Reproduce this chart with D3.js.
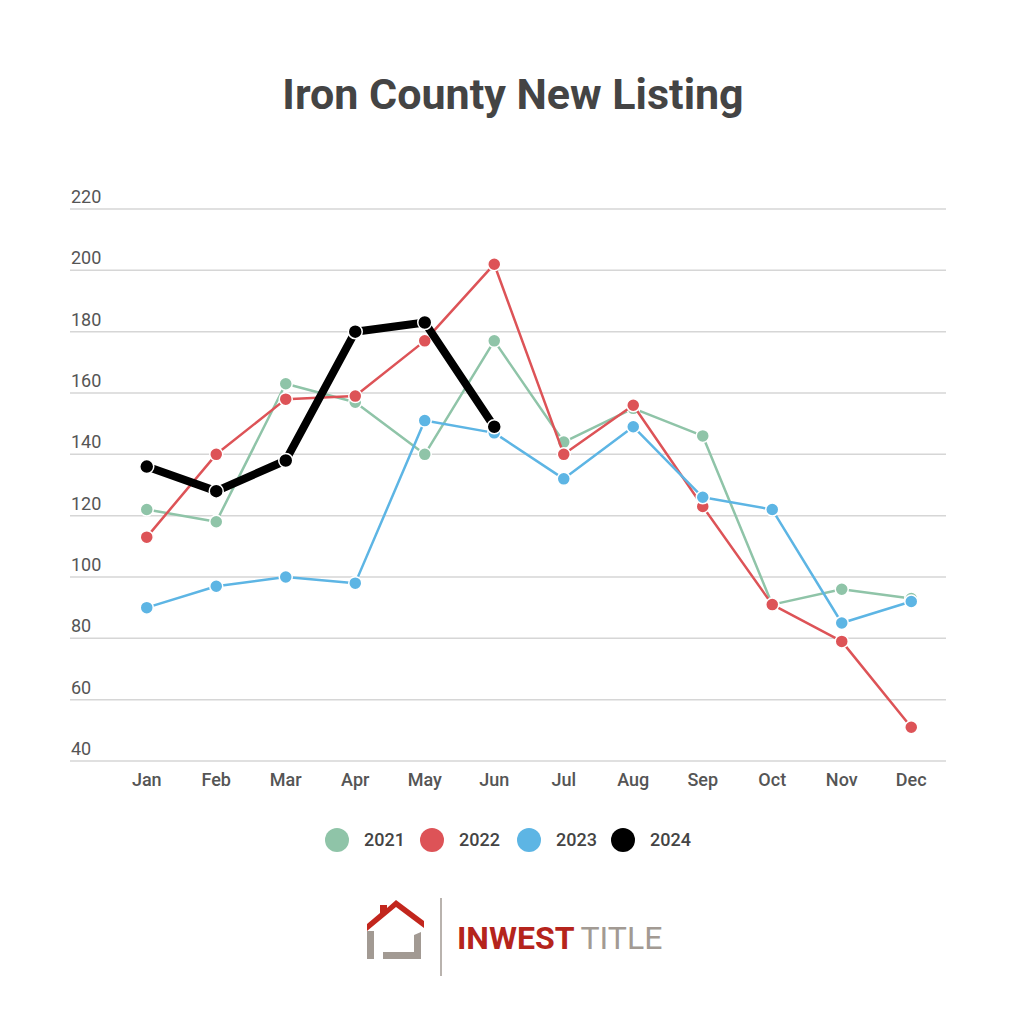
<!DOCTYPE html>
<html>
<head>
<meta charset="utf-8">
<script src="https://cdn.jsdelivr.net/npm/d3@7"></script>
<style>
  body { margin: 0; background: #fff; }
  svg text { font-family: Roboto, "Noto Sans", sans-serif; }
</style>
</head>
<body>
<svg width="1032" height="1020"></svg>
<script>
var months = ["Jan", "Feb", "Mar", "Apr", "May", "Jun", "Jul", "Aug", "Sep", "Oct", "Nov", "Dec"];
var yTicks = [40, 60, 80, 100, 120, 140, 160, 180, 200, 220];
var years = ["2021", "2022", "2023", "2024"];
var colors = ["#8fc4a8", "#dd5357", "#5db5e4", "#000000"];

var v2021 = [122, 118, 163, 157, 140, 177, 144, 155, 146, 91, 96, 93];
var v2022 = [113, 140, 158, 159, 177, 202, 140, 156, 123, 91, 79, 51];
var v2023 = [90, 97, 100, 98, 151, 147, 132, 149, 126, 122, 85, 92];
var v2024 = [136, 128, 138, 180, 183, 149];

var seriesVals = [v2021, v2022, v2023, v2024];

var svg = d3.select("svg");

svg.append("text")
  .attr("x", 513)
  .attr("y", 109)
  .attr("text-anchor", "middle")
  .attr("font-size", "43px")
  .attr("font-weight", "bold")
  .attr("fill", "#444")
  .text("Iron County New Listing");

var xScale = d3.scaleBand().domain(months).range([112, 946]),
  yScale = d3.scaleLinear().domain([40, 220]).range([761, 209]);

// gridlines + y labels
var grid = svg.append("g");
grid.selectAll("line")
  .data(yTicks)
  .enter()
  .append("line")
  .attr("x1", 70)
  .attr("x2", 946)
  .attr("y1", function (d) { return yScale(d); })
  .attr("y2", function (d) { return yScale(d); })
  .attr("stroke", "#d6d6d6")
  .attr("stroke-width", 1.5);
grid.selectAll("text")
  .data(yTicks)
  .enter()
  .append("text")
  .attr("x", 71)
  .attr("y", function (d) { return yScale(d) - 6; })
  .attr("font-size", "18px")
  .attr("fill", "#555")
  .text(function (d) { return d; });

// x labels
svg.append("g").selectAll("text")
  .data(months)
  .enter()
  .append("text")
  .attr("x", function (d) { return xScale(d) + xScale.bandwidth() / 2; })
  .attr("y", 786)
  .attr("text-anchor", "middle")
  .attr("font-size", "18px")
  .attr("font-weight", 500)
  .attr("fill", "#555")
  .text(function (d) { return d; });

var line = d3.line()
  .x(function (d, i) { return xScale(months[i]) + xScale.bandwidth() / 2; })
  .y(function (d) { return yScale(d); });

seriesVals.forEach(function (vals, k) {
  var last = k === 3;
  var g = svg.append("g");
  g.append("path")
    .datum(vals)
    .attr("d", line)
    .attr("fill", "none")
    .attr("stroke", colors[k])
    .attr("stroke-width", last ? 8 : 2.5)
    .attr("stroke-linejoin", "round");
  g.selectAll("circle")
    .data(vals)
    .enter()
    .append("circle")
    .attr("cx", function (d, i) { return xScale(months[i]) + xScale.bandwidth() / 2; })
    .attr("cy", function (d) { return yScale(d); })
    .attr("r", last ? 7 : 6.5)
    .attr("fill", colors[k])
    .attr("stroke", "#fff")
    .attr("stroke-width", 1.5);
});

// legend
var legendX = [337, 432, 529, 623];
var legend = svg.append("g");
years.forEach(function (y, k) {
  legend.append("circle")
    .attr("cx", legendX[k])
    .attr("cy", 840)
    .attr("r", 12)
    .attr("fill", colors[k]);
  legend.append("text")
    .attr("x", legendX[k] + 27)
    .attr("y", 846)
    .attr("font-size", "18px")
    .attr("font-weight", 500)
    .attr("fill", "#444")
    .text(y);
});

// logo
var logo = svg.append("g");
logo.append("path")
  .attr("d", "M367,924 L380,913 L380,905 L387,905 L387,908 L396,900 L424,921 L424,928 L396,907 L367,931 Z")
  .attr("fill", "#c2261d");
logo.append("path")
  .attr("d", "M367,931 L374,931 L374,959 L367,959 Z M383,952 L414,952 L414,935 L421,932 L421,959 L383,959 Z")
  .attr("fill", "#a29a93");
logo.append("line")
  .attr("x1", 441).attr("x2", 441)
  .attr("y1", 898).attr("y2", 976)
  .attr("stroke", "#a29a93")
  .attr("stroke-width", 1.5);
var lt = logo.append("text")
  .attr("x", 457)
  .attr("y", 949)
  .attr("font-size", "32px")
  .attr("font-family", "Roboto, sans-serif");
lt.append("tspan").attr("font-weight", "bold").attr("fill", "#b5241c").text("INWEST");
lt.append("tspan").attr("fill", "#a29a93").attr("dx", 6).text("TITLE");
</script>
</body>
</html>
